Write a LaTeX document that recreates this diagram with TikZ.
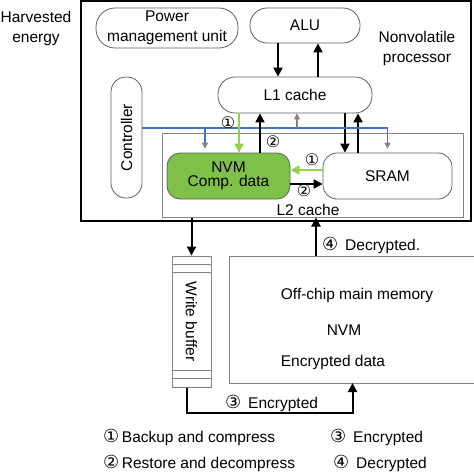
\documentclass[tikz,border=0pt]{standalone}
\usepackage{fontspec}
\setmainfont{Liberation Sans}
\newfontfamily\circfont{DejaVu Sans}
\usetikzlibrary{arrows.meta}
\definecolor{nvmgreen}{RGB}{126,192,72}
\definecolor{arrgreen}{RGB}{146,208,80}
\definecolor{busblue}{RGB}{68,114,196}
\definecolor{boxgray}{RGB}{95,95,95}
\definecolor{linegray}{RGB}{130,130,130}
\tikzset{
  txt/.style={font=\fontsize{15.5}{20}\selectfont, inner sep=0pt},
  rbox/.style={draw=boxgray, line width=0.8pt, rounded corners=17pt, inner sep=0pt, align=center, font=\fontsize{15.5}{20}\selectfont},
  sqbox/.style={draw=linegray, line width=1pt, inner sep=0pt},
  blk/.style={line width=2pt, -{Triangle[length=9pt,width=9pt]}},
  grn/.style={draw=arrgreen, line width=2pt, -{Triangle[length=9pt,width=9pt,color=arrgreen]}},
  bus/.style={draw=busblue, line width=1.1pt},
  busarr/.style={draw=busblue, line width=1.1pt, -{Triangle[length=6pt,width=6pt,color=linegray]}},
  circ/.style={font=\circfont\fontsize{16}{16}\selectfont, inner sep=0pt},
}
\newcommand\cnum[1]{{\circfont\fontsize{18}{18}\selectfont #1}}
\begin{document}
\begin{tikzpicture}[x=1pt,y=-1pt]
\useasboundingbox (0,0) rectangle (474,474);
% outer processor box
\draw[line width=1.8pt] (81,1) rectangle (471,221);
\node[txt, align=center] (harv) at (36,28) {Harvested\\energy};
\node[txt, align=center] (nvp) at (417,48) {Nonvolatile\\processor};
% L2 box
\node[sqbox, minimum width=301pt, minimum height=84pt] (l2) at (312.5,175) {};
\node[txt] (l2lab) at (308,210) {L2 cache};
% top units
\node[rbox, minimum width=142pt, minimum height=40pt, rounded corners=19pt] (pmu) at (167,28) {Power\\management unit};
\node[rbox, minimum width=110pt, minimum height=35pt] (alu) at (305,25.5) {ALU};
\node[rbox, minimum width=154pt, minimum height=36pt] (l1) at (295,95) {L1 cache};
\node[rbox, minimum width=31pt, minimum height=121pt, rounded corners=15pt] (ctrl) at (126.5,137.5) {};
\node[txt, rotate=90] (ctrllab) at (ctrl.center) {Controller};
\node[rbox, fill=nvmgreen, minimum width=123pt, minimum height=46pt, rounded corners=13pt, font=\fontsize{15.5}{14}\selectfont] (nvm) at (228.5,176) {NVM\\Comp. data};
\node[rbox, minimum width=129pt, minimum height=46pt, rounded corners=14pt] (sram) at (387.5,176) {SRAM};
% ALU <-> L1
\draw[blk] ([xshift=-27pt]alu.south) -- ([xshift=-17pt]l1.north);
\draw[blk] ([xshift=23pt]l1.north) -- ([xshift=13pt]alu.south);
% L1 <-> SRAM
\draw[blk] ([xshift=50pt]l1.south) -- ([xshift=-42.5pt]sram.north);
\draw[blk] ([xshift=-29.5pt]sram.north) -- ([xshift=63pt]l1.south);
% bus
\coordinate (bus) at ([yshift=9.5pt]ctrl.east);
\coordinate (nvmdrop) at ([xshift=-23.5pt]nvm.north);
\coordinate (l1drop) at ([xshift=2pt]l1.south);
\draw[busarr, shorten >=4pt] (bus) -| (sram.north);
\draw[busarr, shorten >=4pt] (bus -| nvmdrop) -- (nvmdrop);
\draw[draw=linegray, line width=1.1pt, -{Triangle[length=6pt,width=6pt,color=linegray]}] (bus -| l1drop) -- (l1drop);
% L1 <-> NVM
\draw[grn] ([xshift=-56pt]l1.south) -- ([xshift=10.5pt]nvm.north);
\draw[blk] ([xshift=31.5pt]nvm.north) -- ([xshift=-35pt]l1.south);
% SRAM <-> NVM
\draw[grn] ([yshift=6pt]sram.west) -- ([yshift=6pt]nvm.east);
\draw[blk] ([yshift=-8pt]nvm.east) -- ([yshift=-8pt]sram.west);
\node[circ] (c1a) at (228,123) {①};
\node[circ] (c2a) at (273,142) {②};
\node[circ] (c1b) at (312,160) {①};
\node[circ] (c2b) at (304,191) {②};
% write buffer
\node[sqbox, minimum width=39pt, minimum height=131pt] (wb) at (191.5,321.5) {};
\draw[draw=linegray, line width=1pt] ([yshift=-9pt]wb.north west) -- ([yshift=-9pt]wb.north east);
\draw[draw=linegray, line width=1pt] ([yshift=-17pt]wb.north west) -- ([yshift=-17pt]wb.north east);
\draw[draw=linegray, line width=1pt] ([yshift=17pt]wb.south west) -- ([yshift=17pt]wb.south east);
\draw[draw=linegray, line width=1pt] ([yshift=9pt]wb.south west) -- ([yshift=9pt]wb.south east);
\node[txt, rotate=-90] (wblab) at (wb.center) {Write buffer};
% memory
\coordinate (memN) at (352.5,256);
\coordinate (memS) at (352.5,383);
\draw[draw=linegray, line width=1pt] (478,256) -- (229,256) -- (229,383) -- (478,383);
\node[txt] (m1) at (357,295) {Off-chip main memory};
\node[txt] (m2) at (344,330) {NVM};
\node[txt] (m3) at (333,362) {Encrypted data};
% L2 -> write buffer
\draw[blk] (wb.north |- l2.south) -- (wb.north);
% memory -> L2
\coordinate (up) at ([xshift=3.5pt]l2.south);
\draw[blk] (up |- memN) -- (up);
\node[txt, anchor=west] (dec) at (322,245) {\cnum{④}\ \,Decrypted.};
% write buffer -> memory
\draw[blk] ([xshift=-4.5pt]wb.south) -- ++(0,25) -| (memS);
\node[txt, anchor=west] (enc) at (225,403) {\cnum{③}\ \,Encrypted};
% legend
\node[txt, anchor=west] (lg1) at (103,437) {\cnum{①}\,Backup and compress};
\node[txt, anchor=west] (lg2) at (103,463) {\cnum{②}\,Restore and decompress};
\node[txt, anchor=west] (lg3) at (330,437) {\cnum{③}\ \,Encrypted};
\node[txt, anchor=west] (lg4) at (333,463) {\cnum{④}\ \,Decrypted};
\end{tikzpicture}
\end{document}
